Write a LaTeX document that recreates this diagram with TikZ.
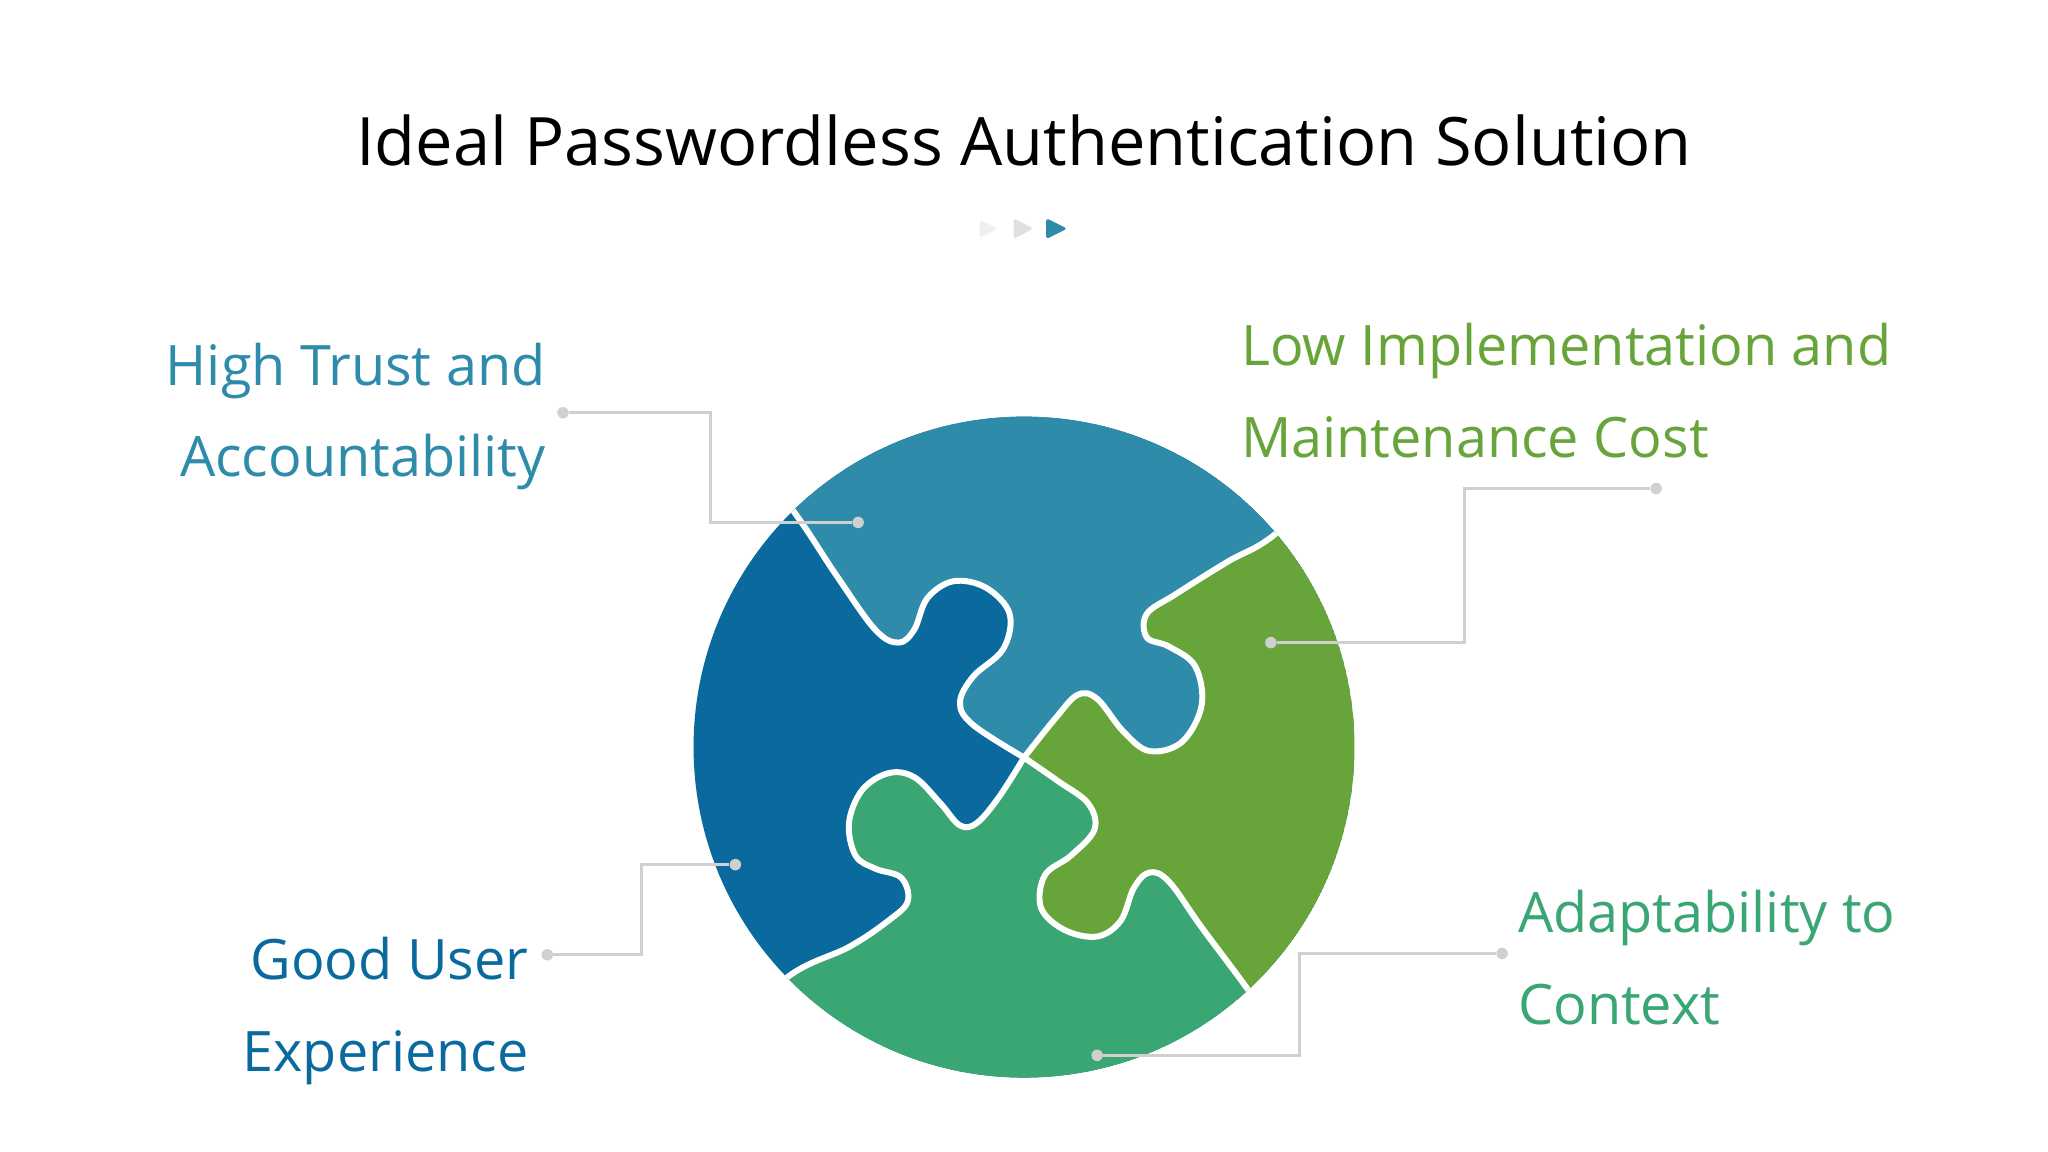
\documentclass[tikz,border=0pt]{standalone}
\usepackage{fontspec}
\setmainfont{Open Sans}
\definecolor{cteal}{HTML}{2E8BAA}
\definecolor{cblue}{HTML}{0A6A9E}
\definecolor{cgreen}{HTML}{67A53A}
\definecolor{cmint}{HTML}{3AA673}
\definecolor{cline}{HTML}{D0D0D0}
\begin{document}
\begin{tikzpicture}[x=0.02cm,y=-0.02cm,
  lead/.style={cline,line width=1.3pt},
  dotn/.style={circle,fill=cline,inner sep=0pt,minimum size=5pt},
  lbl/.style={font=\fontsize{24.3}{40}\selectfont,inner sep=0pt},
  sep/.style={white,line width=2.6pt,line join=round},
  tri/.style={rounded corners=1.2pt}]
\useasboundingbox (0,0) rectangle (1568,882);
\fill[white] (0,0) rectangle (1568,882);
\node[font=\fontsize{29.1}{34}\selectfont,anchor=base] (title) at (784,127) {Ideal Passwordless Authentication Solution};
% small arrows
\fill[black!6,tri] (750,168) -- (764,175) -- (750,182) -- cycle;
\fill[black!12,tri] (776,167) -- (791,175) -- (776,183) -- cycle;
\fill[cteal,tri] (801,167) -- (817,175) -- (801,183) -- cycle;
% puzzle
\begin{scope}
\clip (784,572) circle (253);
\fill[cblue] (784,572) circle (253);
\fill[cteal] plot[smooth,tension=0.6] coordinates {(784,580) (808,550) (825,532) (840,535) (860,560) (880,575) (905,568) (920,540) (915,510) (895,495) (878,488) (878,470) (900,455) (940,430) (975,410) (1030,360)}
 -- (1030,250) -- (560,250) --
 plot[smooth,tension=0.6] coordinates {(560,330) (608,392) (640,440) (670,482) (688,492) (700,482) (710,458) (730,445) (755,450) (773,470) (768,497) (745,518) (735,538) (745,555) (784,580)} -- cycle;
\fill[cgreen] plot[smooth,tension=0.6] coordinates {(784,580) (808,550) (825,532) (840,535) (860,560) (880,575) (905,568) (920,540) (915,510) (895,495) (878,488) (878,470) (900,455) (940,430) (975,410) (1030,360)}
 -- (1100,360) -- (1100,830) --
 plot[smooth,tension=0.6] coordinates {(1000,820) (955,757) (920,710) (895,675) (880,668) (868,680) (858,705) (840,717) (815,712) (797,695) (800,670) (820,655) (838,635) (833,615) (810,598) (784,580)} -- cycle;
\fill[cmint] plot[smooth,tension=0.6] coordinates {(784,580) (810,598) (833,615) (838,635) (820,655) (800,670) (797,695) (815,712) (840,717) (858,705) (868,680) (880,668) (895,675) (920,710) (955,757) (1000,820)}
 -- (1000,900) -- (550,900) --
 plot[smooth,tension=0.6] coordinates {(550,800) (603,748) (650,725) (680,705) (695,690) (690,672) (670,665) (655,655) (650,630) (660,605) (680,592) (700,595) (720,615) (735,632) (748,630) (765,610) (784,580)} -- cycle;
\draw[sep] plot[smooth,tension=0.6] coordinates {(784,580) (745,555) (735,538) (745,518) (768,497) (773,470) (755,450) (730,445) (710,458) (700,482) (688,492) (670,482) (640,440) (608,392) (560,330)};
\draw[sep] plot[smooth,tension=0.6] coordinates {(784,580) (808,550) (825,532) (840,535) (860,560) (880,575) (905,568) (920,540) (915,510) (895,495) (878,488) (878,470) (900,455) (940,430) (975,410) (1030,360)};
\draw[sep] plot[smooth,tension=0.6] coordinates {(784,580) (810,598) (833,615) (838,635) (820,655) (800,670) (797,695) (815,712) (840,717) (858,705) (868,680) (880,668) (895,675) (920,710) (955,757) (1000,820)};
\draw[sep] plot[smooth,tension=0.6] coordinates {(784,580) (765,610) (748,630) (735,632) (720,615) (700,595) (680,592) (660,605) (650,630) (655,655) (670,665) (690,672) (695,690) (680,705) (650,725) (603,748) (550,800)};
\end{scope}
% leaders
\node[dotn] (a1) at (431,316) {}; \node[dotn] (a2) at (657,400) {};
\draw[lead] (a1) -| (544,400) -- (a2);
\node[dotn] (b1) at (1268,374) {}; \node[dotn] (b2) at (973,492) {};
\draw[lead] (b1) -| (1121,492) -- (b2);
\node[dotn] (c1) at (419,731) {}; \node[dotn] (c2) at (563,662) {};
\draw[lead] (c1) -| (491,662) -- (c2);
\node[dotn] (d1) at (1150,730) {}; \node[dotn] (d2) at (840,808) {};
\draw[lead] (d1) -| (995,808) -- (d2);
% labels
\node[lbl,cteal,anchor=base east] (t1) at (418,295) {High Trust and};
\node[lbl,cteal,anchor=base east] (t2) at (418,365) {Accountability};
\node[lbl,cgreen,anchor=base west] (r1) at (950,280) {Low Implementation and};
\node[lbl,cgreen,anchor=base west] (r2) at (950,350) {Maintenance Cost};
\node[lbl,cblue,anchor=base east] (g1) at (405,750) {Good User};
\node[lbl,cblue,anchor=base east] (g2) at (405,820) {Experience};
\node[lbl,cmint,anchor=base west] (m1) at (1162,714) {Adaptability to};
\node[lbl,cmint,anchor=base west] (m2) at (1162,784) {Context};
\end{tikzpicture}
\end{document}
